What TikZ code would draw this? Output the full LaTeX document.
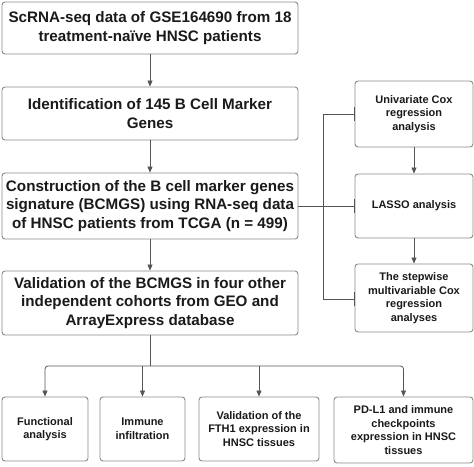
\documentclass[tikz,border=0pt]{standalone}
\usepackage{fontspec}
\setmainfont{Liberation Sans}
\usetikzlibrary{arrows.meta}
\definecolor{lineg}{HTML}{555555}
\definecolor{boxg}{HTML}{8A8A8A}
\definecolor{txt}{HTML}{1A1A1A}
\tikzset{
  x=1pt, y=-1pt,
  boxbase/.style={draw=boxg, line width=0.9pt, rounded corners=3pt, fill=white, align=center, text=txt, font=\bfseries, inner sep=1pt},
  mainbox/.style={boxbase, minimum width=296pt, font=\fontsize{15.2}{18.2}\selectfont\bfseries},
  sidebox/.style={boxbase, minimum width=118pt, font=\fontsize{11}{13.6}\selectfont\bfseries},
  lowbox/.style={boxbase, minimum height=64pt, font=\fontsize{11}{13.6}\selectfont\bfseries},
  arr/.style={draw=lineg, line width=0.8pt, -{Triangle[width=5pt,length=6pt]}},
  conn/.style={draw=lineg, line width=0.8pt},
  barend/.style={draw=lineg, line width=0.8pt, -{Bar[width=14pt]}}
}
\begin{document}
\begin{tikzpicture}
\useasboundingbox (0,0) rectangle (474,466);
\node[mainbox, minimum height=52pt] (b1) at (150,28) {ScRNA-seq data of GSE164690 from 18\\treatment-naïve HNSC patients};
\node[mainbox, minimum height=53pt] (b2) at (150,113.5) {Identification of 145 B Cell Marker\\Genes};
\node[mainbox, minimum height=66pt] (b3) at (150,206) {Construction of the B cell marker genes\\signature (BCMGS) using RNA-seq data\\of HNSC patients from TCGA (n = 499)};
\node[mainbox, minimum height=64pt] (b4) at (150,303) {Validation of the BCMGS in four other\\independent cohorts from GEO and\\ArrayExpress database};
\node[sidebox, minimum height=66pt] (r1) at (414,114) {Univariate Cox\\regression\\analysis};
\node[sidebox, minimum height=64pt] (r2) at (414,206) {LASSO analysis};
\node[sidebox, minimum height=68pt] (r3) at (414,298) {The stepwise\\multivariable Cox\\regression\\analyses};
\node[lowbox, minimum width=86pt] (c1) at (45,429) {Functional\\analysis};
\node[lowbox, minimum width=85pt] (c2) at (142.5,429) {Immune\\infiltration};
\node[lowbox, minimum width=120pt] (c3) at (259,429) {Validation of the\\FTH1 expression in\\HNSC tissues};
\node[lowbox, minimum width=139pt, minimum height=66pt] (c4) at (403.5,430) {PD-L1 and immune\\checkpoints\\expression in HNSC\\tissues};
% main column
\draw[arr] (b1) -- (b2);
\draw[arr] (b2) -- (b3);
\draw[arr] (b3) -- (b4);
% side column
\draw[arr] (r1) -- (r2);
\draw[arr] (r2) -- (r3);
\coordinate (vx1) at (323,114);
\coordinate (vx2) at (323,299);
\draw[barend] (b3.east) -- (r2.west);
\draw[barend] (vx2) -- (vx1) -- (r1.west);
\draw[barend] (vx1) -- (vx2) -- (r3.west |- vx2);
% bottom fan
\coordinate (j) at (150,366);
\draw[conn] (b4.south) -- (j);
\draw[arr, rounded corners=3pt] (j) -| (c1.north);
\draw[arr] (c2.north |- j) -- (c2.north);
\draw[arr] (c3.north |- j) -- (c3.north);
\draw[arr, rounded corners=3pt] (j) -| (c4.north);
\end{tikzpicture}
\end{document}
